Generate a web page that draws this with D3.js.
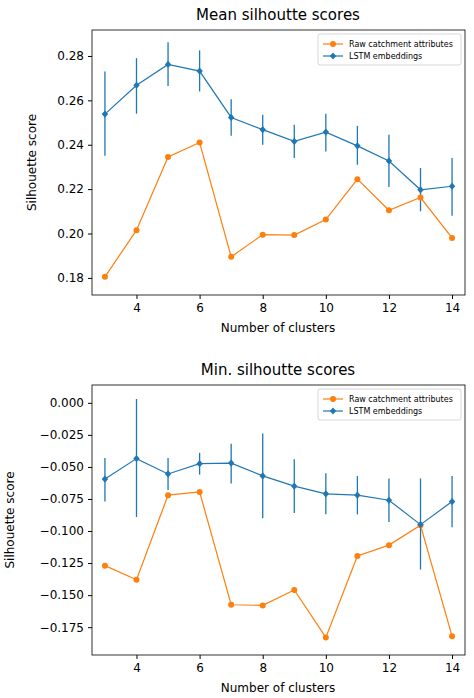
<!DOCTYPE html><html><head><meta charset="utf-8"><script src="https://cdn.jsdelivr.net/npm/d3@7"></script>
<style>body{margin:0;background:#fff}text{font-family:"DejaVu Sans",sans-serif}</style></head><body>
<script>
const clusters=[3,4,5,6,7,8,9,10,11,12,13,14];
const meanRaw=[0.1805,0.2015,0.2345,0.241,0.1895,0.1995,0.1993,0.2063,0.2245,0.2105,0.2162,0.198];
const meanLstm=[0.2538,0.2668,0.2762,0.2732,0.2523,0.2468,0.2415,0.2457,0.2395,0.2327,0.2197,0.2213];
const meanLo=[0.235,0.254,0.2665,0.264,0.244,0.240,0.234,0.237,0.231,0.221,0.210,0.208];
const meanHi=[0.273,0.279,0.2862,0.2825,0.2605,0.2535,0.249,0.254,0.2485,0.2445,0.2295,0.234];
const minRaw=[-0.127,-0.138,-0.072,-0.0695,-0.1575,-0.158,-0.146,-0.183,-0.1195,-0.111,-0.0955,-0.182];
const minLstm=[-0.0595,-0.0435,-0.0555,-0.0475,-0.047,-0.057,-0.065,-0.071,-0.072,-0.076,-0.095,-0.077];
const minLo=[-0.077,-0.089,-0.068,-0.056,-0.063,-0.090,-0.086,-0.087,-0.087,-0.093,-0.130,-0.097];
const minHi=[-0.043,0.003,-0.043,-0.039,-0.032,-0.024,-0.044,-0.055,-0.057,-0.059,-0.059,-0.057];
const xTicks=[4,6,8,10,12,14];
const meanTicks=[0.18,0.20,0.22,0.24,0.26,0.28];
const minTicks=[0,-0.025,-0.05,-0.075,-0.1,-0.125,-0.15,-0.175];
const OR="#ff7f0e",BL="#1f77b4";
const svg=d3.select("body").append("svg").attr("width",474).attr("height",698);
function panel(top,bottom,ydom,ticks,fmt,title,raw,lstm,lo,hi,labX){
  const x=d3.scaleLinear().domain([2.59,14.41]).range([92,465]);
  const y=d3.scaleLinear().domain(ydom).range([bottom,top]);
  const g=svg.append("g");
  g.append("rect").attr("x",92).attr("y",top).attr("width",373).attr("height",bottom-top).attr("fill","none").attr("stroke","#000").attr("stroke-width",0.8);
  const xa=g.append("g").attr("transform",`translate(0,${bottom})`).call(d3.axisBottom(x).tickValues(xTicks).tickSize(4).tickPadding(4));
  const ya=g.append("g").attr("transform","translate(92,0)").call(d3.axisLeft(y).tickValues(ticks).tickFormat(d3.format(fmt)).tickSize(4).tickPadding(4));
  [xa,ya].forEach(a=>{a.select(".domain").remove();a.selectAll("text").attr("font-size",12).attr("fill","#000");});
  g.append("text").attr("x",278).attr("y",bottom+37).attr("text-anchor","middle").attr("font-size",12).text("Number of clusters");
  g.append("text").attr("transform",`translate(${labX},${(top+bottom)/2}) rotate(-90)`).attr("text-anchor","middle").attr("font-size",12).text("Silhouette score");
  g.append("text").attr("x",278).attr("y",top-10).attr("text-anchor","middle").attr("font-size",15).text(title);
  const line=d3.line().x((d,i)=>x(clusters[i])).y(d=>y(d));
  clusters.forEach((c,i)=>g.append("line").attr("x1",x(c)).attr("x2",x(c)).attr("y1",y(lo[i])).attr("y2",y(hi[i])).attr("stroke",BL).attr("stroke-width",1.3));
  g.append("path").attr("d",line(raw)).attr("fill","none").attr("stroke",OR).attr("stroke-width",1.2);
  g.append("path").attr("d",line(lstm)).attr("fill","none").attr("stroke",BL).attr("stroke-width",1.2);
  raw.forEach((v,i)=>g.append("circle").attr("cx",x(clusters[i])).attr("cy",y(v)).attr("r",3).attr("fill",OR));
  lstm.forEach((v,i)=>g.append("path").attr("transform",`translate(${x(clusters[i])},${y(v)})`).attr("d","M0,-3.6L3.2,0L0,3.6L-3.2,0Z").attr("fill",BL));
  const lg=g.append("g").attr("transform",`translate(318,${top+4})`);
  lg.append("rect").attr("width",143).attr("height",31).attr("rx",2).attr("fill","#fff").attr("stroke","#ccc").attr("stroke-width",0.8);
  [["Raw catchment attributes",OR,0],["LSTM embeddings",BL,1]].forEach(([t,c,k])=>{
    const yy=10+k*12;
    lg.append("line").attr("x1",5).attr("x2",25).attr("y1",yy).attr("y2",yy).attr("stroke",c).attr("stroke-width",1.2);
    if(k==0)lg.append("circle").attr("cx",15).attr("cy",yy).attr("r",3).attr("fill",c);
    else lg.append("path").attr("transform",`translate(15,${yy})`).attr("d","M0,-3.6L3.2,0L0,3.6L-3.2,0Z").attr("fill",c);
    lg.append("text").attr("x",31).attr("y",yy+3).attr("font-size",8).text(t);
  });
}
panel(30,295,[0.1723,0.2917],meanTicks,".2f","Mean silhoutte scores",meanRaw,meanLstm,meanLo,meanHi,36);
panel(385,655,[-0.1967,0.0139],minTicks,".3f","Min. silhoutte scores",minRaw,minLstm,minLo,minHi,14);
</script></body></html>
